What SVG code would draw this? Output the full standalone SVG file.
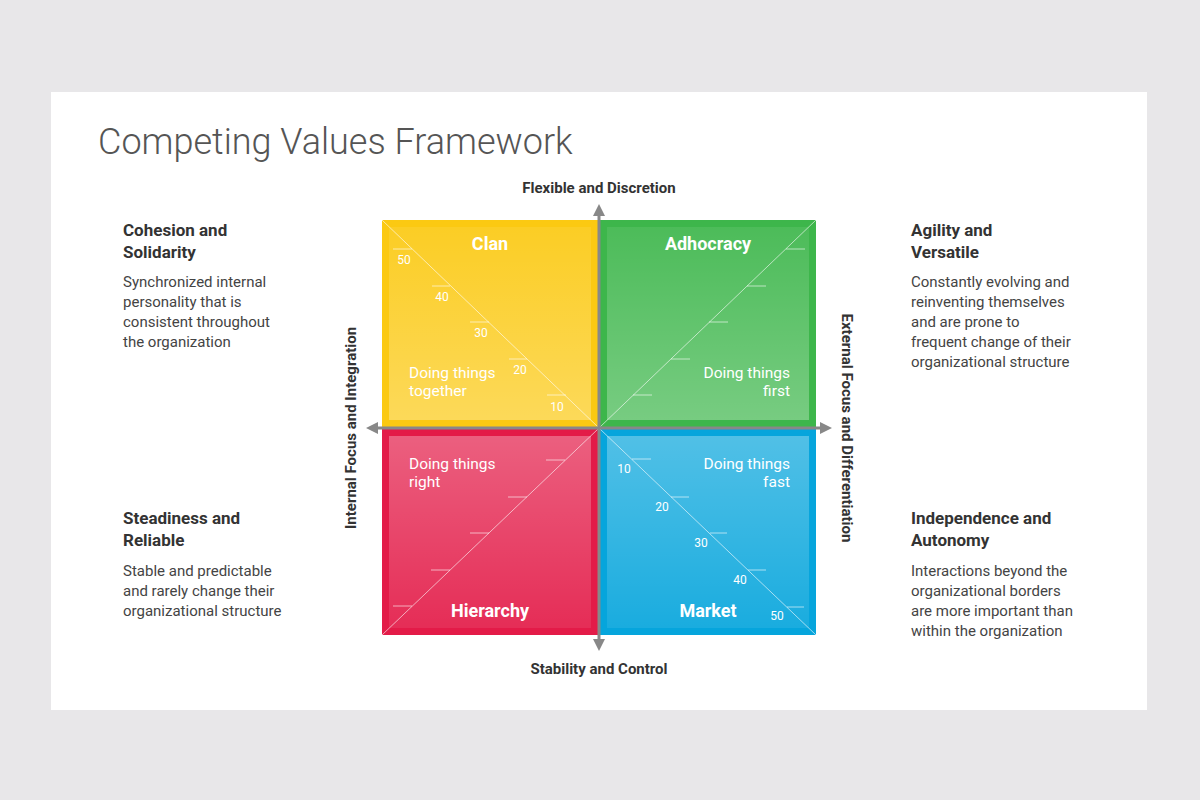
<svg xmlns="http://www.w3.org/2000/svg" width="1200" height="800" viewBox="0 0 1200 800">
<defs>
<linearGradient id="wg" x1="0" y1="0" x2="0" y2="1"><stop offset="0" stop-color="#fff" stop-opacity="0.08"/><stop offset="1" stop-color="#fff" stop-opacity="0.3"/></linearGradient>
<linearGradient id="wg2" x1="0" y1="1" x2="0" y2="0"><stop offset="0" stop-color="#fff" stop-opacity="0.08"/><stop offset="1" stop-color="#fff" stop-opacity="0.3"/></linearGradient>
<marker id="ah" viewBox="0 0 10 10" refX="5" refY="5" markerWidth="4" markerHeight="4" orient="auto-start-reverse"><path d="M0,0 L10,5 L0,10 z" fill="#888"/></marker>
</defs>
<style>
text{font-family:Roboto,"Liberation Sans",sans-serif}
.t{font-size:36px;fill:#555;font-weight:300}
.h{font-size:17px;font-weight:bold;fill:#333}
.b{font-size:15px;fill:#444}
.ax{font-size:15px;font-weight:bold;fill:#333}
.q{font-size:18px;font-weight:bold;fill:#fff}
.d{font-size:15.5px;fill:#fff}
.n{font-size:12px;fill:#fff;text-anchor:middle}
.ln{stroke:#fff;stroke-opacity:0.6;stroke-width:1}
</style>
<rect width="1200" height="800" fill="#e8e7e9"/>
<rect x="51" y="92" width="1096" height="618" fill="#fff"/>
<text class="t" x="98" y="154">Competing Values Framework</text>

<g id="clan">
<rect x="382" y="220" width="216" height="207" fill="#FBC912"/>
<rect x="389" y="227" width="202" height="193" fill="url(#wg)"/>
<line class="ln" x1="382" y1="220" x2="598" y2="427"/>
<g class="ln"><line x1="393" y1="249" x2="412" y2="249"/><line x1="432" y1="286" x2="450" y2="286"/><line x1="470" y1="322" x2="489" y2="322"/><line x1="509" y1="359" x2="527" y2="359"/><line x1="547" y1="395" x2="566" y2="395"/></g>
<text class="n" x="404" y="264">50</text><text class="n" x="442" y="301">40</text><text class="n" x="481" y="337">30</text><text class="n" x="520" y="374">20</text><text class="n" x="557" y="411">10</text>
<text class="q" x="490" y="250" text-anchor="middle">Clan</text>
<text class="d" x="409" y="378">Doing things</text><text class="d" x="409" y="396">together</text>
</g>

<g id="adhocracy">
<rect x="600" y="220" width="216" height="207" fill="#3DB64B"/>
<rect x="607" y="227" width="202" height="193" fill="url(#wg)"/>
<line class="ln" x1="600" y1="427" x2="816" y2="220"/>
<g class="ln"><line x1="786" y1="249" x2="805" y2="249"/><line x1="747" y1="286" x2="766" y2="286"/><line x1="709" y1="322" x2="728" y2="322"/><line x1="671" y1="359" x2="690" y2="359"/><line x1="633" y1="395" x2="652" y2="395"/></g>
<text class="q" x="708" y="250" text-anchor="middle">Adhocracy</text>
<text class="d" x="790" y="378" text-anchor="end">Doing things</text><text class="d" x="790" y="396" text-anchor="end">first</text>
</g>

<g id="hierarchy">
<rect x="382" y="429" width="216" height="206" fill="#E31B48"/>
<rect x="389" y="436" width="202" height="192" fill="url(#wg2)"/>
<line class="ln" x1="382" y1="635" x2="598" y2="429"/>
<g class="ln"><line x1="393" y1="606" x2="412" y2="606"/><line x1="431" y1="570" x2="450" y2="570"/><line x1="470" y1="533" x2="489" y2="533"/><line x1="508" y1="497" x2="527" y2="497"/><line x1="546" y1="460" x2="565" y2="460"/></g>
<text class="q" x="490" y="617" text-anchor="middle">Hierarchy</text>
<text class="d" x="409" y="469">Doing things</text><text class="d" x="409" y="487">right</text>
</g>

<g id="market">
<rect x="600" y="429" width="216" height="206" fill="#06A5DC"/>
<rect x="607" y="436" width="202" height="192" fill="url(#wg2)"/>
<line class="ln" x1="600" y1="429" x2="816" y2="635"/>
<g class="ln"><line x1="632" y1="459" x2="651" y2="459"/><line x1="671" y1="497" x2="689" y2="497"/><line x1="710" y1="533" x2="727" y2="533"/><line x1="748" y1="570" x2="766" y2="570"/><line x1="787" y1="607" x2="804" y2="607"/></g>
<text class="n" x="624" y="473">10</text><text class="n" x="662" y="511">20</text><text class="n" x="701" y="547">30</text><text class="n" x="740" y="584">40</text><text class="n" x="777" y="620">50</text>
<text class="q" x="708" y="617" text-anchor="middle">Market</text>
<text class="d" x="790" y="469" text-anchor="end">Doing things</text><text class="d" x="790" y="487" text-anchor="end">fast</text>
</g>

<g id="connectors" stroke="#888" stroke-width="3">
<line x1="599" y1="210" x2="599" y2="645" marker-start="url(#ah)" marker-end="url(#ah)"/>
<line x1="372" y1="428" x2="826" y2="428" marker-start="url(#ah)" marker-end="url(#ah)"/>
</g>

<g id="axis-labels">
<text class="ax" x="599" y="193" text-anchor="middle">Flexible and Discretion</text>
<text class="ax" x="599" y="674" text-anchor="middle">Stability and Control</text>
<text class="ax" transform="translate(356,428) rotate(-90)" text-anchor="middle">Internal Focus and Integration</text>
<text class="ax" transform="translate(842,428) rotate(90)" text-anchor="middle">External Focus and Differentiation</text>
</g>

<g id="cohesion"><text class="h" x="123" y="236">Cohesion and</text><text class="h" x="123" y="258">Solidarity</text>
<text class="b" x="123" y="287">Synchronized internal</text><text class="b" x="123" y="307">personality that is</text><text class="b" x="123" y="327">consistent throughout</text><text class="b" x="123" y="347">the organization</text></g>
<g id="agility"><text class="h" x="911" y="236">Agility and</text><text class="h" x="911" y="258">Versatile</text>
<text class="b" x="911" y="287">Constantly evolving and</text><text class="b" x="911" y="307">reinventing themselves</text><text class="b" x="911" y="327">and are prone to</text><text class="b" x="911" y="347">frequent change of their</text><text class="b" x="911" y="367">organizational structure</text></g>
<g id="steadiness"><text class="h" x="123" y="524">Steadiness and</text><text class="h" x="123" y="546">Reliable</text>
<text class="b" x="123" y="576">Stable and predictable</text><text class="b" x="123" y="596">and rarely change their</text><text class="b" x="123" y="616">organizational structure</text></g>
<g id="independence"><text class="h" x="911" y="524">Independence and</text><text class="h" x="911" y="546">Autonomy</text>
<text class="b" x="911" y="576">Interactions beyond the</text><text class="b" x="911" y="596">organizational borders</text><text class="b" x="911" y="616">are more important than</text><text class="b" x="911" y="636">within the organization</text></g>
</svg>
